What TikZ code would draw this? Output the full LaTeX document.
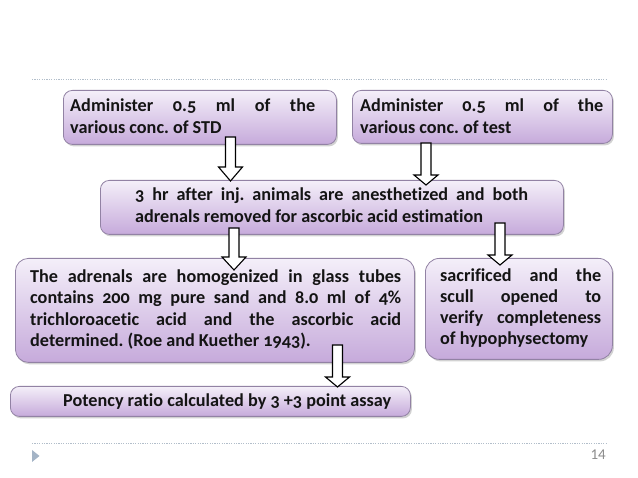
\documentclass[tikz,border=0pt]{standalone}
\usepackage{fontspec}
\setmainfont{Carlito}[Numbers=OldStyle]
\usetikzlibrary{shadows}
\definecolor{boxtop}{HTML}{F4EFF9}
\definecolor{boxbot}{HTML}{C6AADB}
\definecolor{boxline}{HTML}{9282A4}
\definecolor{rulecol}{HTML}{B2BECA}
\definecolor{tricol}{HTML}{A4B4C6}
\definecolor{numcol}{HTML}{8C8C8C}
\definecolor{txtcol}{HTML}{141414}
\tikzset{
  box/.style={draw=boxline, line width=0.8pt, rounded corners=9pt,
    top color=boxtop, bottom color=boxbot, anchor=north west, inner sep=0pt,
    drop shadow={shadow xshift=1.5pt, shadow yshift=-2pt, opacity=0.35}},
  boxtext/.style={anchor=base west, inner sep=0pt, align=justify, text=txtcol,
    font=\fontsize{18.2}{21.5}\selectfont\bfseries\frenchspacing\addfontfeatures{Ligatures=NoCommon}},
  boxtextE/.style={boxtext,
    font=\fontsize{18.2}{20.7}\selectfont\bfseries\frenchspacing\addfontfeatures{Ligatures=NoCommon}},
  blockarrow/.style={draw=black, fill=white, line width=1.1pt, line join=miter},
  rulerline/.style={draw=rulecol, line width=0.6pt, dash pattern=on 1.2pt off 1.2pt}
}
\newcommand{\downblock}[4]{%
  \draw[blockarrow] (#1-5,-#2) -- (#1-5,-#3) -- (#1-12,-#3) -- (#1,-#4)
    -- (#1+12,-#3) -- (#1+5,-#3) -- (#1+5,-#2) -- cycle;}
\begin{document}
\begin{tikzpicture}[x=1pt,y=1pt]
\fill[white] (0,0) rectangle (638,-478);
\useasboundingbox (0,0) rectangle (638,-478);
% rules
\coordinate (r1a) at (32,-79);
\coordinate (r1b) at (607,-79);
\coordinate (r2a) at (32,-443);
\coordinate (r2b) at (607,-443);
\draw[rulerline] (r1a) -- (r1b);
\draw[rulerline] (r2a) -- (r2b);
% boxes
\node[box, minimum width=273pt, minimum height=54pt] (A) at (63,-90) {};
\node[box, minimum width=260pt, minimum height=53pt] (B) at (352,-90) {};
\node[box, minimum width=463pt, minimum height=54pt] (C) at (100,-180) {};
\node[box, rounded corners=13pt, minimum width=399pt, minimum height=104pt] (D) at (15,-258) {};
\node[box, rounded corners=14pt, minimum width=187pt, minimum height=101pt] (E) at (425,-258) {};
\node[box, minimum width=400pt, minimum height=30pt] (F) at (10,-386) {};
% texts
\node[boxtext, text width=245pt] (At) at (70,-112) {Administer 0.5 ml of the\linebreak various conc. of STD};
\node[boxtext, text width=243pt] (Bt) at (360,-112) {Administer 0.5 ml of the\linebreak various conc. of test};
\node[boxtext, text width=393pt] (Ct) at (135,-201) {3 hr after inj. animals are anesthetized and both\linebreak adrenals removed for ascorbic acid estimation};
\node[boxtext, text width=371pt] (Dt) at (30,-282.5) {The adrenals are homogenized in glass tubes\linebreak contains 200 mg pure sand and 8.0 ml of 4\%\linebreak trichloroacetic acid and the ascorbic acid\linebreak determined. (Roe and Kuether 1943).};
\node[boxtextE, text width=161pt] (Et) at (440,-282) {sacrificed and the\linebreak scull opened to\linebreak verify completeness\linebreak of hypophysectomy};
\node[boxtext, align=left] (Ft) at (63,-407) {Potency ratio calculated by 3 +3 point assay};
% arrows
\downblock{230.5}{137}{167}{181}
\downblock{426}{143}{175}{185}
\downblock{234}{228}{257}{270}
\downblock{500}{223}{255}{265}
\downblock{337.5}{345}{377}{387}
% footer
\fill[tricol] (32,-450) -- (39.5,-456) -- (32,-462) -- cycle;
\node[anchor=base east, inner sep=0pt, text=numcol, font=\fontsize{15}{17}\selectfont\addfontfeatures{Numbers=Lining}] (pg) at (606,-460) {14};
\end{tikzpicture}
\end{document}
